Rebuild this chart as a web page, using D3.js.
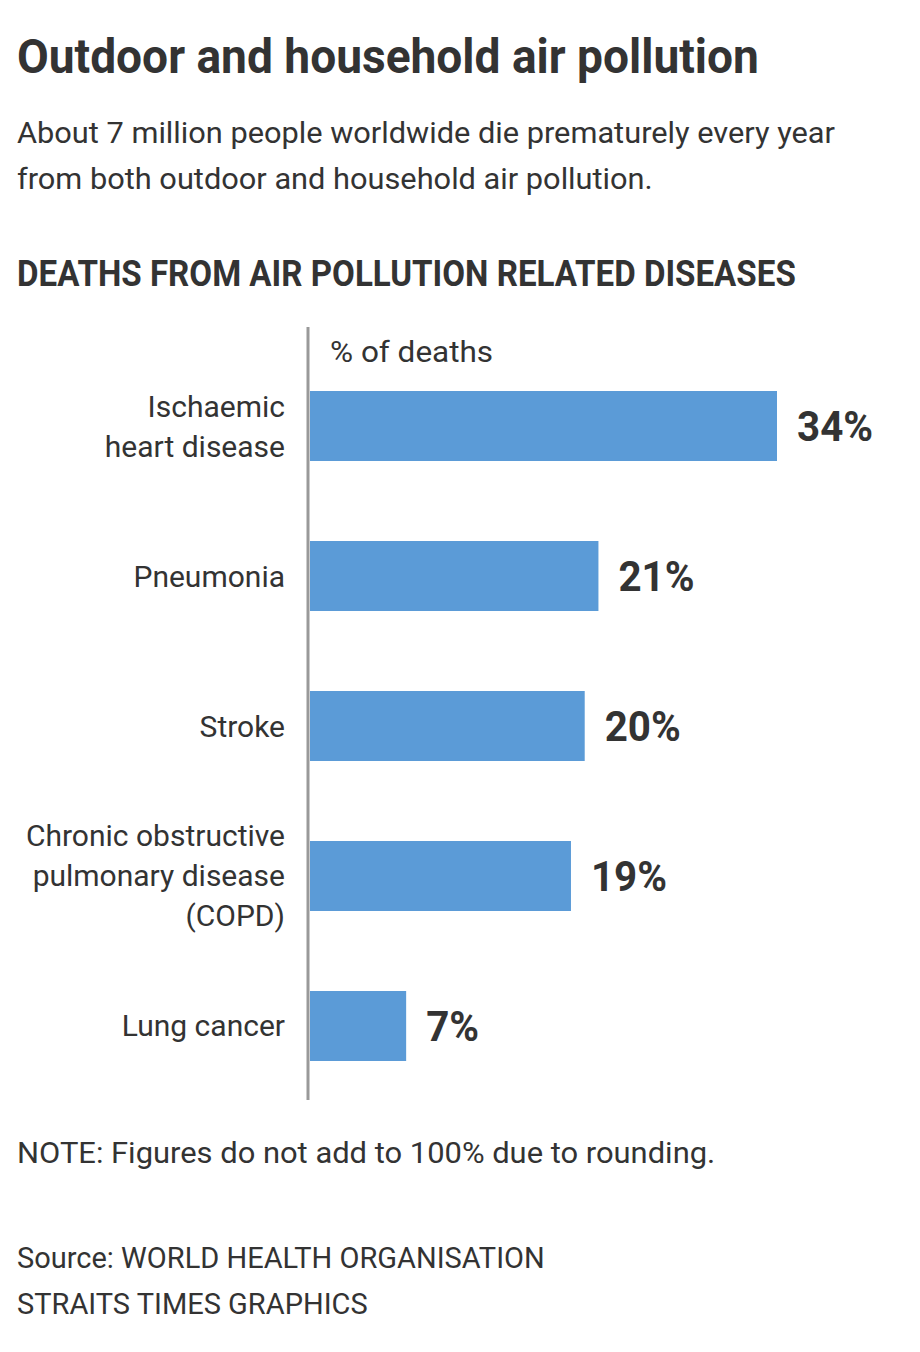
<!DOCTYPE html>
<html>
<head>
<meta charset="utf-8">
<script src="https://cdn.jsdelivr.net/npm/d3@7"></script>
<style>
  body { margin: 0; background: #fff; }
  svg text { font-family: Roboto, "Noto Sans", sans-serif; fill: #333; }
</style>
</head>
<body>
<svg class="view" width="920" height="1352"></svg>
<script>
// data
var categories = ['Ischaemic heart disease', 'Pneumonia', 'Stroke',
    'Chronic obstructive pulmonary disease (COPD)', 'Lung cancer'];
var labelLines = [['Ischaemic', 'heart disease'], ['Pneumonia'], ['Stroke'],
    ['Chronic obstructive', 'pulmonary disease', '(COPD)'], ['Lung cancer']];
var shares = [34, 21, 20, 19, 7];

var svg = d3.select('.view'),
    width = +svg.attr('width'),
    height = +svg.attr('height');

svg.append('rect').attr('width', width).attr('height', height).attr('fill', '#fff');

// squeeze a text horizontally to look like the narrow house font
function squeeze(sel, k) {
    sel.each(function () {
        var w = this.getComputedTextLength();
        d3.select(this).attr('textLength', w * k).attr('lengthAdjust', 'spacingAndGlyphs');
    });
    return sel;
}

svg.append('text')
    .attr('x', 17).attr('y', 73)
    .attr('font-size', 48).attr('font-weight', 700)
    .text('Outdoor and household air pollution')
    .call(squeeze, 0.96);

var sub = ['About 7 million people worldwide die prematurely every year',
    'from both outdoor and household air pollution.'];
svg.selectAll('.sub').data(sub).enter().append('text')
    .attr('class', 'sub')
    .attr('x', 17).attr('y', function (d, i) { return 143 + i * 46; })
    .attr('font-size', 30)
    .text(function (d) { return d; })
    .call(squeeze, 1.025);

svg.append('text')
    .attr('x', 17).attr('y', 286)
    .attr('font-size', 37).attr('font-weight', 700)
    .text('DEATHS FROM AIR POLLUTION RELATED DISEASES')
    .call(squeeze, 0.895);

var x = d3.scaleLinear().domain([0, 34]).range([310, 777]);
var y = d3.scaleBand().domain(categories).range([391, 1061]).paddingInner(0.5333);

var g = svg.append('g');

g.selectAll('.bar').data(shares).enter().append('rect')
    .attr('class', 'bar')
    .attr('x', x(0))
    .attr('y', function (d, i) { return y(categories[i]); })
    .attr('width', function (d) { return x(d) - x(0); })
    .attr('height', y.bandwidth())
    .attr('fill', '#5b9bd7');

g.append('line')
    .attr('x1', 308).attr('x2', 308)
    .attr('y1', 327).attr('y2', 1100)
    .attr('stroke', '#999').attr('stroke-width', 3);

g.append('text')
    .attr('x', 330).attr('y', 362)
    .attr('font-size', 30)
    .text('% of deaths')
    .call(squeeze, 1.05);

g.selectAll('.val').data(shares).enter().append('text')
    .attr('class', 'val')
    .attr('x', function (d) { return x(d) + 20; })
    .attr('y', function (d, i) { return y(categories[i]) + y.bandwidth() / 2; })
    .attr('dy', '0.36em')
    .attr('font-size', 42).attr('font-weight', 700)
    .text(function (d) { return d + '%'; })
    .call(squeeze, 0.96);

var lab = g.selectAll('.lab').data(categories).enter().append('text')
    .attr('class', 'lab')
    .attr('text-anchor', 'end')
    .attr('font-size', 30)
    .attr('y', function (d) { return y(d) + y.bandwidth() / 2; });

lab.selectAll('tspan')
    .data(function (d, i) {
        var lines = labelLines[i];
        return lines.map(function (t, j) { return { t: t, off: (j - (lines.length - 1) / 2) * 40 }; });
    })
    .enter().append('tspan')
    .attr('x', 285)
    .attr('y', function (d) { return +d3.select(this.parentNode).attr('y') + d.off; })
    .attr('dominant-baseline', 'central')
    .text(function (d) { return d.t; });

svg.append('text')
    .attr('x', 17).attr('y', 1163)
    .attr('font-size', 30)
    .text('NOTE: Figures do not add to 100% due to rounding.')
    .call(squeeze, 1.03);

var foot = ['Source: WORLD HEALTH ORGANISATION', 'STRAITS TIMES GRAPHICS'];
svg.selectAll('.foot').data(foot).enter().append('text')
    .attr('class', 'foot')
    .attr('x', 17).attr('y', function (d, i) { return 1268 + i * 46; })
    .attr('font-size', 29)
    .text(function (d) { return d; });
</script>
</body>
</html>
